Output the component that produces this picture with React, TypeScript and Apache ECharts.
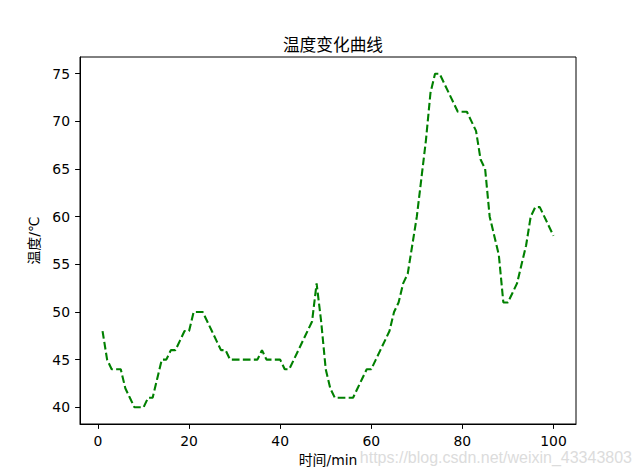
import React, { useEffect, useRef } from "react";
import * as echarts from "echarts";

// minutes on the x axis
const minutes = [
  1, 2, 3, 4, 5, 6, 7, 8, 9, 10, 11, 12, 13, 14, 15, 16, 17, 18, 19, 20,
  21, 22, 23, 24, 25, 26, 27, 28, 29, 30, 31, 32, 33, 34, 35, 36, 37, 38, 39, 40,
  41, 42, 43, 44, 45, 46, 47, 48, 49, 50, 51, 52, 53, 54, 55, 56, 57, 58, 59, 60,
  61, 62, 63, 64, 65, 66, 67, 68, 69, 70, 71, 72, 73, 74, 75, 76, 77, 78, 79, 80,
  81, 82, 83, 84, 85, 86, 87, 88, 89, 90, 91, 92, 93, 94, 95, 96, 97, 98, 99, 100,
];

// temperature
const temps = [
  48, 45, 44, 44, 44, 42, 41, 40, 40, 40, 41, 41, 43, 45, 45, 46, 46, 47, 48, 48,
  50, 50, 50, 49, 48, 47, 46, 46, 45, 45, 45, 45, 45, 45, 45, 46, 45, 45, 45, 45,
  44, 44, 45, 46, 47, 48, 49, 53, 49, 44, 42, 41, 41, 41, 41, 41, 42, 43, 44, 44,
  45, 46, 47, 48, 50, 51, 53, 54, 57, 60, 64, 68, 73, 75, 75, 74, 73, 72, 71, 71,
  71, 70, 69, 66, 65, 60, 58, 56, 51, 51, 52, 53, 55, 57, 60, 61, 61, 60, 59, 58,
];

const xTicks = [0, 20, 40, 60, 80, 100];
const yTicks = [40, 45, 50, 55, 60, 65, 70, 75];

const FONT = "DejaVu Sans, Noto Sans CJK SC, sans-serif";

const App: React.FC = () => {
  const chartRef = useRef<HTMLDivElement>(null);

  useEffect(() => {
    if (!chartRef.current) return;
    const chart = echarts.init(chartRef.current, undefined, { renderer: "svg" });

    const axisText = { color: "#000", fontFamily: FONT, fontSize: 13.9 };

    chart.setOption({
      animation: false,
      backgroundColor: "#fff",
      title: {
        text: "温度变化曲线",
        left: 328,
        top: 32,
        textAlign: "center",
        textStyle: { color: "#000", fontFamily: FONT, fontSize: 16.7, fontWeight: "normal" },
      },
      grid: {
        left: 80,
        right: 64,
        top: 57,
        bottom: 52,
        show: true,
        borderColor: "#000",
        borderWidth: 1,
      },
      xAxis: {
        type: "value",
        min: -3.95,
        max: 104.95,
        name: "时间/min",
        nameLocation: "middle",
        nameGap: 29,
        nameTextStyle: axisText,
        axisLine: { show: true, onZero: false, lineStyle: { color: "#000", width: 1 } },
        axisTick: { show: true, length: 4.9, customValues: xTicks, lineStyle: { color: "#000" } },
        axisLabel: { ...axisText, margin: 10, customValues: xTicks },
        splitLine: { show: false },
      },
      yAxis: {
        type: "value",
        min: 38.25,
        max: 76.75,
        name: "温度/℃",
        nameLocation: "middle",
        nameGap: 32,
        nameTextStyle: axisText,
        axisLine: { show: true, onZero: false, lineStyle: { color: "#000", width: 1 } },
        axisTick: { show: true, length: 4.9, customValues: yTicks, lineStyle: { color: "#000" } },
        axisLabel: { ...axisText, margin: 10, customValues: yTicks },
        splitLine: { show: false },
      },
      graphic: [
        {
          type: "text",
          right: 8,
          top: 449,
          style: {
            text: "https://blog.csdn.net/weixin_43343803",
            fill: "#dcdcdc",
            font: "16px Liberation Sans, Arial, sans-serif",
          },
        },
      ],
      series: [
        {
          type: "line",
          data: minutes.map((m, i) => [m, temps[i]]),
          showSymbol: false,
          lineStyle: { color: "#008000", width: 2.1, type: [7.7, 3.3] },
        },
      ],
    });

    return () => {
      chart.dispose();
    };
  }, []);

  return (
    <div
      ref={chartRef}
      style={{ position: "absolute", left: 0, top: 0, width: "640px", height: "476px" }}
    />
  );
};

export default App;
